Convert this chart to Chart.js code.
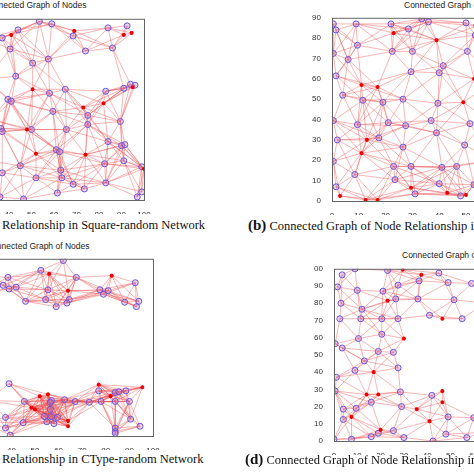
<!DOCTYPE html>
<html><head><meta charset="utf-8">
<script src="https://cdn.jsdelivr.net/npm/chart.js@4/dist/chart.umd.min.js"></script>
<style>
body{margin:0;width:474px;height:474px;overflow:hidden;background:#fff;position:relative;font-family:"Liberation Sans",Arial,sans-serif}
canvas{position:absolute}
.t{position:absolute;font-size:8.5px;color:#222;white-space:nowrap}
.cap{position:absolute;font-family:"Liberation Serif","Times New Roman",serif;font-size:12.5px;color:#111;white-space:nowrap}
</style></head><body>
<canvas id="ca"></canvas><canvas id="cb"></canvas><canvas id="cc"></canvas><canvas id="cd"></canvas>
<div class="t" style="left:-17px;top:0px">Connected Graph of Nodes</div>
<div class="t" style="left:404px;top:0px">Connected Graph of Nodes</div>
<div class="t" style="left:-14px;top:241px">Connected Graph of Nodes</div>
<div class="t" style="left:402px;top:250px">Connected Graph of Nodes</div>
<div class="cap" style="left:2px;top:218px">Relationship in Square-random Network</div>
<div class="cap" style="left:248px;top:217px"><b style="font-size:15px">(b)</b> Connected Graph of Node Relationship in Circle-random Network</div>
<div class="cap" style="left:2px;top:452px">Relationship in CType-random Network</div>
<div class="cap" style="left:245px;top:451px"><b style="font-size:15px">(d)</b> Connected Graph of Node Relationship in LType-random Network</div>
<script>
const ticksX=[0,10,20,30,40,50,60,70,80,90,100];
const nodesA=[[53.5,88.7],[59,87.5],[84,85.5],[92.5,86.5],[44,84.5],[68.5,81.5],[37,80.5],[40.5,75],[74,74],[86,75.5],[57.5,70],[50.5,68],[43,61.5],[94,57.5],[96,57],[91,55.5],[83,54],[65,55],[58,53],[39.5,50],[41,49],[59.5,44],[75,42],[89.5,39],[75,37.5],[36.5,35.5],[37,34],[50,35],[65.5,35],[84,29],[90,27],[91.5,27.5],[61,25],[62.5,24],[91,19.5],[45,17],[82.5,18],[99,16.5],[37,13.5],[63,14.8],[52,11],[63.5,11],[68.5,7.8],[73.5,5.5],[83,8.5],[99,4],[61.5,3.5],[97,1.5],[46.5,0.5],[36,1.5],[30,60],[32,40],[28,20],[30,80],[25,5]];
const anchorsA=[[41,82],[69,84],[91,82],[94.5,83],[50.5,55],[73,46],[82,48],[95,56],[48,35],[52,23],[74,22.5],[100,15.5]];
const nodesB=[[0.5,87],[9,87],[22,87],[28.5,84.5],[33.5,89.5],[36,88],[50,87.5],[1.5,84],[9.5,76.5],[0.5,72.5],[6,69.5],[22.5,73.5],[30,73.5],[41.5,66.5],[29.5,63.5],[40,63],[1.5,61.5],[4,52],[11.5,49.5],[19,48.5],[26.5,50],[39.5,48],[0.5,39.5],[9.5,37.5],[21,38.5],[27.5,37],[37,39.5],[51.5,38],[2,30],[17.5,31],[26.5,26.5],[39,33.5],[49.5,27.5],[0.5,19.5],[8.5,13],[23,17],[29.5,17],[41,16.5],[46.5,17],[23.5,10.5],[40,8.5],[53,8],[1.5,7],[31,3.5],[48,2.5],[54,86],[53.5,81.5],[50.5,73.5],[62,60],[58,40],[60,20]];
const anchorsB=[[23,82.5],[39,79],[53,60],[11,57],[17,56],[49,48.5],[13,30],[11,23.5],[29.5,6.5],[43,4],[3,2.5],[12.5,0.5],[17,0.5],[50,3]];
const nodesC=[[62,99],[52.5,93.5],[38.5,89.5],[42,84],[39,83],[55.5,82.5],[67.5,89.5],[77.5,82.5],[81,82],[92.5,86.5],[79,80],[54.5,77],[46,76],[64.5,77],[63.5,75],[59,73],[88,75.5],[93,73],[94,76],[36.5,85],[30,90],[25,80],
[39,29.5],[77,25.5],[84,24.5],[85.5,25],[88.5,25.5],[45.5,19.5],[57,20],[56.5,19],[62.5,20.5],[67,19.5],[73,19],[78,19.5],[84,19.5],[90,19.5],[56.5,15],[57,11],[54,11],[59.5,10.5],[55,8],[37.5,10.5],[45,7.5],[58,7],[90.5,9.5],[94.5,5.5],[37.5,4.5],[84,4.5],[84,2.5],[84,1.5],[39.5,0.5],[30,20],[28,8]];
const anchorsC=[[56,91.5],[64,82],[82.5,90.5],[52,22.5],[55.5,23.5],[77,29],[82,22.5],[95.5,27.5],[50,15],[64,8.5],[64,5.5],[48.5,16]];
const nodesD=[[9,100],[23,99],[3.5,96.5],[1.5,89.5],[10,87.5],[21,87],[27.5,90.5],[36.5,93],[45,97.5],[49,92],[59,91.5],[3,80],[12,76.5],[26.5,82.5],[36,82.5],[51.5,82],[2.5,71],[11.5,71],[20.5,71],[27.5,71],[41,73],[55,71],[10.5,59.5],[20.5,62],[0.5,56.5],[3.5,54],[19,52],[25.5,51.5],[13,46.5],[27.5,42.5],[9,41],[1,37],[0.5,29],[4,18.5],[4,12.5],[9.5,19],[16,22.5],[28.5,28.5],[42,26.5],[29,20],[49,14],[60,13.5],[19,4.5],[25.5,6],[16,2.5],[30,2],[42.5,0],[7.5,1],[0,1],[48,4],[57,2],[65,80],[66,25],[64,5]];
const anchorsD=[[29.5,99.5],[37.5,96.5],[23,81.5],[46.5,71],[30,59.5],[17,40],[14,27],[19,27],[46.5,29],[46.5,22.5],[35.5,18.5],[41,11.5],[7.5,14],[20,6.5]];

function mk(id,pos,nodes,anchors,ymax,R){
  const cv=document.getElementById(id);
  cv.width=pos[2];cv.height=pos[3];
  cv.style.left=pos[0]+'px';cv.style.top=pos[1]+'px';
  cv.style.width=pos[2]+'px';cv.style.height=pos[3]+'px';
  const all=nodes.concat(anchors);
  const edges=[];
  for(let i=0;i<all.length;i++)for(let j=i+1;j<all.length;j++){
    const dx=all[i][0]-all[j][0],dy=all[i][1]-all[j][1];
    if(Math.hypot(dx,dy)<R)edges.push([i,j]);
  }
  const pl={id:'g',beforeDatasetsDraw(c){
    const x=c.scales.x,y=c.scales.y,ctx=c.ctx,a=c.chartArea;
    ctx.save();ctx.beginPath();ctx.rect(a.left,a.top,a.right-a.left,a.bottom-a.top);ctx.clip();
    ctx.strokeStyle='rgba(235,70,70,0.5)';ctx.lineWidth=0.8;
    edges.forEach(([i,j])=>{ctx.beginPath();ctx.moveTo(x.getPixelForValue(all[i][0]),y.getPixelForValue(all[i][1]));ctx.lineTo(x.getPixelForValue(all[j][0]),y.getPixelForValue(all[j][1]));ctx.stroke();});
    ctx.restore();
  },afterDatasetsDraw(c){
    const a=c.chartArea,ctx=c.ctx;ctx.save();ctx.strokeStyle='#666';ctx.lineWidth=1;
    ctx.strokeRect(a.left+0.5,a.top+0.5,a.right-a.left,a.bottom-a.top);ctx.restore();
  }};
  new Chart(cv,{type:'scatter',plugins:[pl],
    data:{datasets:[
      {data:anchors.map(p=>({x:p[0],y:p[1]})),pointStyle:'star',radius:2,borderColor:'#e00',backgroundColor:'#e00',borderWidth:1.2},
      {data:nodes.map(p=>({x:p[0],y:p[1]})),pointStyle:'circle',radius:3,borderColor:'#6a55d8',backgroundColor:'rgba(200,130,200,0.35)',borderWidth:1}
    ]},
    options:{responsive:false,animation:false,devicePixelRatio:1,
      layout:{padding:{top:2,right:10,left:0,bottom:0}},
      plugins:{legend:{display:false},tooltip:{enabled:false}},
      scales:{
        x:{type:'linear',min:0,max:100,afterFit:s=>{s.height=14},afterBuildTicks:s=>{s.ticks=ticksX.map(v=>({value:v}))},
           grid:{display:false},border:{display:false},ticks:{font:{size:8,family:'Liberation Sans'},color:'#333',padding:2,maxRotation:0}},
        y:{type:'linear',min:0,max:ymax,afterFit:s=>{s.width=20},afterBuildTicks:s=>{const t=[];for(let v=0;v<=ymax;v+=10)t.push({value:v});s.ticks=t},
           grid:{display:false},border:{display:false},ticks:{font:{size:8,family:'Liberation Sans'},color:'#333',padding:3}}
      }}});
}
mk('ca',[-101,11,255,203],nodesA,anchorsA,90,21);
mk('cb',[312,10,298,205],nodesB,anchorsB,90,20);
mk('cc',[-103,251,266,199],nodesC,anchorsC,100,19);
mk('cd',[314,261,263,194],nodesD,anchorsD,100,17);
</script></body></html>
